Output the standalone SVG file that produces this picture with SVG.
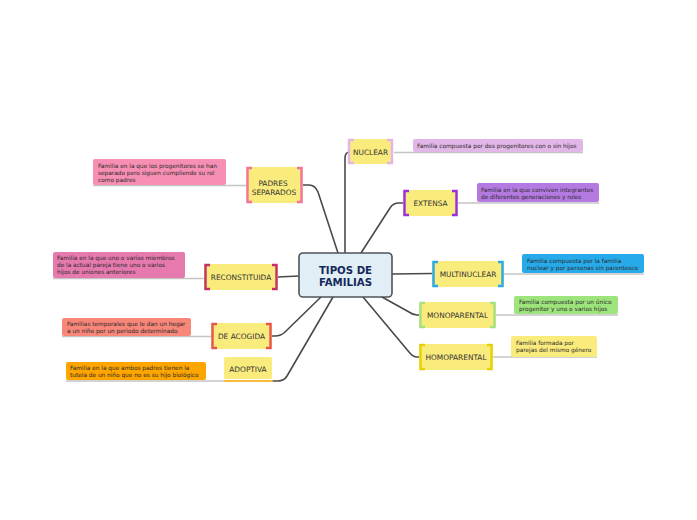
<svg xmlns="http://www.w3.org/2000/svg" width="697" height="520" viewBox="0 0 697 520">
<style>
.bg{fill:#ffffff}
.con{fill:none;stroke:#4a4a4a;stroke-width:1.6;stroke-linecap:round}
.ul{fill:none;stroke:#c4c4c4;stroke-width:1.4}
.node{fill:#faeb7d}
.br{fill:none;stroke-width:2.4}
.lbl{font-family:"DejaVu Sans",Verdana,sans-serif;font-size:7.4px;fill:#333333;text-anchor:middle}
.nt{font-family:"DejaVu Sans",Verdana,sans-serif;font-size:5.8px;fill:#2a2a2a}
.center{fill:#e2eef5;stroke:#4f5459;stroke-width:1.6}
.ct{font-family:"DejaVu Sans",Verdana,sans-serif;font-size:10.2px;font-weight:bold;fill:#13295a;text-anchor:middle}
</style>
<rect class="bg" x="0" y="0" width="697" height="520"/>

<g id="connectors">
<path class="con" d="M345,253 L345,158 Q345,152 350,152"/>
<path class="con" d="M361,253 L390,208 Q393,203 399,203 L403,203"/>
<path class="con" d="M338,253 L318,192 Q315,185 309,185 L303,185"/>
<path class="con" d="M299,276 L278,277"/>
<path class="con" d="M321,297 L285,332 Q281,336 275,336 L272,336"/>
<path class="con" d="M333,297 L287,376 Q284,381 278,381 L273,381"/>
<path class="con" d="M392,274 L432,273.5"/>
<path class="con" d="M382,297 L409,312 Q413,315 417,315 L419,315"/>
<path class="con" d="M363,297 L409,352 Q413,357 417,357 L419,357"/>
<path class="ul" d="M394,152.5 L583,152.5"/>
<path class="ul" d="M458,203 L599,203"/>
<path class="ul" d="M93,185.5 L246,185.5"/>
<path class="ul" d="M53,278.5 L204,278.5"/>
<path class="ul" d="M62,336.5 L211,336.5"/>
<path class="ul" d="M66,381 L224,381"/>
<path d="M224,381 L273,381" fill="none" stroke="#ffa500" stroke-width="1.6"/>
<path class="ul" d="M504,274 L644,274"/>
<path class="ul" d="M496,315 L618,315"/>
<path class="ul" d="M493,357 L597,357"/>
</g>

<g id="center">
<rect class="center" x="299" y="253" width="93" height="44" rx="4"/>
<text class="ct" x="345.5" y="274">TIPOS DE</text>
<text class="ct" x="345.5" y="285.5">FAMILIAS</text>
</g>

<g id="nuclear">
<rect class="node" x="348" y="139" width="45" height="25" rx="1.5"/>
<path class="br" stroke="#e2b6e6" d="M354,140 L349,140 L349,163 L354,163 M387,140 L392,140 L392,163 L387,163"/>
<text class="lbl" x="370.5" y="155">NUCLEAR</text>
</g>
<g id="nuclear-note">
<rect x="413" y="139" width="170" height="13" rx="2" fill="#e2b6e6"/>
<text class="nt" x="417" y="148">Familia compuesta por dos progenitores con o sin hijos</text>
</g>

<g id="extensa">
<rect class="node" x="403" y="190" width="55" height="26" rx="1.5"/>
<path class="br" stroke="#9a2ee2" d="M409,191 L404.5,191 L404.5,215 L409,215 M452,191 L456.5,191 L456.5,215 L452,215"/>
<text class="lbl" x="430.5" y="206">EXTENSA</text>
</g>
<g id="extensa-note">
<rect x="477" y="183" width="122" height="19" rx="2" fill="#b57ae2"/>
<text class="nt" x="481" y="191.5">Familia en la que conviven integrantes</text>
<text class="nt" x="481" y="199">de diferentes generaciones y roles</text>
</g>

<g id="padres">
<rect class="node" x="246" y="167" width="57" height="36" rx="1.5"/>
<path class="br" stroke="#f472a0" d="M252,168 L247.5,168 L247.5,202 L252,202 M297,168 L301.5,168 L301.5,202 L297,202"/>
<text class="lbl" x="273" y="185.5">PADRES</text>
<text class="lbl" x="274" y="194.5">SEPARADOS</text>
</g>
<g id="padres-note">
<rect x="93" y="159" width="133" height="26" rx="2" fill="#f78fb4"/>
<text class="nt" x="98" y="168">Familia en la que los progenitores se han</text>
<text class="nt" x="98" y="175">separado pero siguen cumpliendo su rol</text>
<text class="nt" x="98" y="181.5">como padres</text>
</g>

<g id="reconstituida">
<rect class="node" x="204" y="264" width="74" height="26" rx="1.5"/>
<path class="br" stroke="#c3306c" d="M210,265 L205.5,265 L205.5,289 L210,289 M272,265 L276.5,265 L276.5,289 L272,289"/>
<text class="lbl" x="241" y="280">RECONSTITUIDA</text>
</g>
<g id="reconstituida-note">
<rect x="53" y="252" width="132" height="26" rx="2" fill="#e679ae"/>
<text class="nt" x="57" y="260">Familia en la que uno o varios miembros</text>
<text class="nt" x="57" y="267">de la actual pareja tiene uno o varios</text>
<text class="nt" x="57" y="274">hijos de uniones anteriores</text>
</g>

<g id="acogida">
<rect class="node" x="211" y="323" width="61" height="26" rx="1.5"/>
<path class="br" stroke="#e85450" d="M217,324 L212.5,324 L212.5,348 L217,348 M266,324 L270.5,324 L270.5,348 L266,348"/>
<text class="lbl" x="241.5" y="339">DE ACOGIDA</text>
</g>
<g id="acogida-note">
<rect x="62" y="318" width="129" height="18" rx="2" fill="#f88679"/>
<text class="nt" x="67" y="326">Familias temporales que le dan un hogar</text>
<text class="nt" x="67" y="333">a un niño por un periodo determinado</text>
</g>

<g id="adoptiva">
<rect class="node" x="224" y="357" width="48" height="22" rx="2"/>
<text class="lbl" x="248" y="372">ADOPTIVA</text>
</g>
<g id="adoptiva-note">
<rect x="66" y="362" width="140" height="18" rx="2" fill="#ffa500"/>
<text class="nt" x="70" y="370">Familia en la que ambos padres tienen la</text>
<text class="nt" x="70" y="377">tutela de un niño que no es su hijo biológico</text>
</g>

<g id="multinuclear">
<rect class="node" x="432" y="261" width="72" height="26" rx="1.5"/>
<path class="br" stroke="#27a8e8" d="M438,262 L433.5,262 L433.5,286 L438,286 M498,262 L502.5,262 L502.5,286 L498,286"/>
<text class="lbl" x="468" y="277">MULTINUCLEAR</text>
</g>
<g id="multinuclear-note">
<rect x="522" y="254" width="122" height="19" rx="2" fill="#27aae9"/>
<text class="nt" x="527" y="262.5">Familia compuesta por la familia</text>
<text class="nt" x="527" y="270">nuclear y por personas sin parentesco</text>
</g>

<g id="monoparental">
<rect class="node" x="419" y="302" width="77" height="26" rx="1.5"/>
<path class="br" stroke="#a3e185" d="M425,303 L420.5,303 L420.5,327 L425,327 M490,303 L494.5,303 L494.5,327 L490,327"/>
<text class="lbl" x="457.5" y="318">MONOPARENTAL</text>
</g>
<g id="monoparental-note">
<rect x="514" y="296" width="104" height="18" rx="2" fill="#9ee47c"/>
<text class="nt" x="519" y="304">Familia compuesta por un único</text>
<text class="nt" x="519" y="311">progenitor y uno o varios hijos</text>
</g>

<g id="homoparental">
<rect class="node" x="419" y="344" width="74" height="26" rx="1.5"/>
<path class="br" stroke="#e6d000" d="M425,345 L420.5,345 L420.5,369 L425,369 M487,345 L491.5,345 L491.5,369 L487,369"/>
<text class="lbl" x="456" y="360">HOMOPARENTAL</text>
</g>
<g id="homoparental-note">
<rect x="511" y="336" width="86" height="21" rx="2" fill="#faeb7d"/>
<text class="nt" x="516" y="345">Familia formada por</text>
<text class="nt" x="516" y="352">parejas del mismo género</text>
</g>
</svg>
